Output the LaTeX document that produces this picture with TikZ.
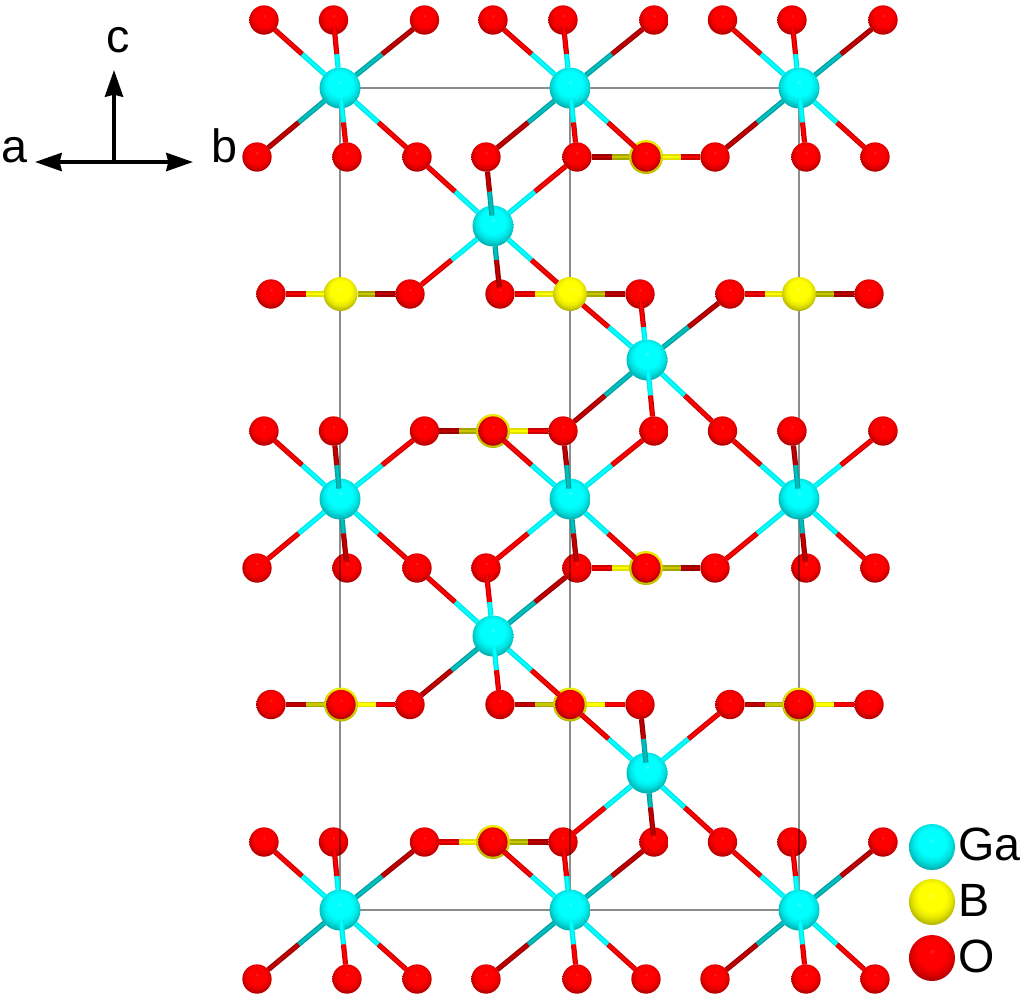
\documentclass[tikz,border=0pt]{standalone}
\usepackage{fontspec}
\setmainfont{Liberation Sans}
\usetikzlibrary{calc,arrows.meta}
\definecolor{cyA}{RGB}{60,255,255}
\definecolor{cyB}{RGB}{0,255,255}
\definecolor{cyC}{RGB}{0,228,228}
\definecolor{cyD}{RGB}{0,180,180}
\definecolor{cyE}{RGB}{0,125,125}
\definecolor{rdA}{RGB}{255,40,40}
\definecolor{rdB}{RGB}{255,0,0}
\definecolor{rdC}{RGB}{230,0,0}
\definecolor{rdD}{RGB}{180,0,0}
\definecolor{rdE}{RGB}{120,0,0}
\definecolor{ylA}{RGB}{255,255,70}
\definecolor{ylB}{RGB}{255,255,0}
\definecolor{ylC}{RGB}{232,232,0}
\definecolor{ylD}{RGB}{185,185,0}
\definecolor{ylE}{RGB}{130,130,0}
\definecolor{cyTubeA}{RGB}{0,230,230}
\definecolor{cyTubeB}{RGB}{0,255,255}
\definecolor{cyTubeC}{RGB}{0,160,160}
\definecolor{cyTubeD}{RGB}{0,190,190}
\definecolor{rdTubeA}{RGB}{205,0,0}
\definecolor{rdTubeB}{RGB}{255,0,0}
\definecolor{rdTubeC}{RGB}{155,0,0}
\definecolor{rdTubeD}{RGB}{192,0,0}
\definecolor{ylTubeA}{RGB}{225,225,0}
\definecolor{ylTubeB}{RGB}{255,255,0}
\definecolor{ylTubeC}{RGB}{165,165,0}
\definecolor{ylTubeD}{RGB}{200,200,0}
\pgfdeclareradialshading{oball}{\pgfpoint{0bp}{7.5bp}}{%
  color(0bp)=(rdA); color(3bp)=(rdB); color(15bp)=(rdB); color(21bp)=(rdC); color(27bp)=(rdD); color(32.5bp)=(rdE); color(50bp)=(rdE)}
\pgfdeclareradialshading{gball}{\pgfpoint{0bp}{7.5bp}}{%
  color(0bp)=(cyA); color(3bp)=(cyB); color(15bp)=(cyB); color(21bp)=(cyC); color(27bp)=(cyD); color(32.5bp)=(cyE); color(50bp)=(cyE)}
\pgfdeclareradialshading{bball}{\pgfpoint{0bp}{7.5bp}}{%
  color(0bp)=(ylA); color(3bp)=(ylB); color(15bp)=(ylB); color(21bp)=(ylC); color(27bp)=(ylD); color(32.5bp)=(ylE); color(50bp)=(ylE)}
\tikzset{
  atom/.style={circle,inner sep=0pt,outer sep=0pt,draw=none},
  oatom/.style={atom,shading=oball,minimum size=22pt},
  gatom/.style={atom,shading=gball,minimum size=30.75pt},
  batom/.style={atom,shading=bball,minimum size=25.5pt},
  tube/.style 2 args={draw=#1,double=#2,double distance=2pt,line width=0.95pt},
  cyb/.style={tube={cyTubeA}{cyTubeB}},
  cyd/.style={tube={cyTubeC}{cyTubeD}},
  rdb/.style={tube={rdTubeA}{rdTubeB}},
  rdd/.style={tube={rdTubeC}{rdTubeD}},
  ylb/.style={tube={ylTubeA}{ylTubeB}},
  yld/.style={tube={ylTubeC}{ylTubeD}},
  cellline/.style={draw=black!45,line width=1pt},
  cellover/.style={draw=black,opacity=.4,line width=1pt},
  axisline/.style={draw=black,line width=3pt,-{Stealth[length=20pt,width=13.5pt,inset=1.5pt]}},
  label/.style={inner sep=0pt,outer sep=0pt,anchor=base west,font=\fontsize{35}{36}\selectfont}
}
% plain half bonds between two atoms
\newcommand\gaoplain[3]{%
  \coordinate (m) at ($(#1.center)!.5!(#2.center)$);
  \draw[cy#3] (#1) -- (m);
  \draw[rd#3] (#2) -- (m);}
% the gallium sphere lies behind the bond
\newcommand\gaoverga[3]{%
  \coordinate (m) at ($(#1.center)!.5!(#2.center)$);
  \draw[cy#3,shorten <=7.9pt] (#1.center) -- (m);
  \draw[rd#3] (#2) -- (m);}
% the oxygen sphere lies behind the bond
\newcommand\gaovero[3]{%
  \coordinate (m) at ($(#1.center)!.5!(#2.center)$);
  \draw[cy#3] (#1) -- (m);
  \draw[rd#3,shorten <=5pt] (#2.center) -- (m);}
\newcommand\boxbond[3]{%
  \coordinate (m) at ($(#1.center)!.5!(#2.center)$);
  \draw[yl#3] (#1) -- (m);
  \draw[rd#3] (#2) -- (m);}
% #1 Ga name, #2 upper row, #3 first column, #4 group
\newcommand\octa[4]{%
  \edef\ra{\number\numexpr#2+1\relax}%
  \edef\cb{\number\numexpr#3+1\relax}%
  \edef\cc{\number\numexpr#3+2\relax}%
  \edef\sa{S#2-#3}\edef\sb{S#2-\cb}\edef\sc{S#2-\cc}%
  \edef\sd{S\ra-#3}\edef\se{S\ra-\cb}\edef\sf{S\ra-\cc}%
  \ifnum#4=1
    \gaoplain{#1}{\sa}{b}\gaovero{#1}{\sb}{b}\gaoplain{#1}{\sc}{d}%
    \gaoplain{#1}{\sd}{d}\gaoverga{#1}{\se}{b}\gaoplain{#1}{\sf}{b}%
  \else
    \gaoplain{#1}{\sa}{b}\gaoverga{#1}{\sb}{d}\gaoplain{#1}{\sc}{b}%
    \gaoplain{#1}{\sd}{b}\gaovero{#1}{\se}{d}\gaoplain{#1}{\sf}{b}%
  \fi}
% #1 row, #2 column, #3 left mode, #4 right mode
\newcommand\bsite[4]{%
  \edef\cl{\number\numexpr#2-1\relax}\edef\cr{\number\numexpr#2+1\relax}%
  \edef\sl{S#1-\cl}\edef\sr{S#1-\cr}%
  \boxbond{B#1-#2}{\sl}{#3}\boxbond{B#1-#2}{\sr}{#4}}
\begin{document}
\begin{tikzpicture}[x=0.75pt,y=-0.75pt]
\useasboundingbox (0,0) rectangle (1024,1001);
% Ga atoms
\foreach \n/\x/\y in {A1/340/88,A2/570/88,A3/799/88,C/493/226,D/647/360,E1/340/499,E2/570/499,E3/799/499,F/493/636,G/647/773,H1/340/910,H2/570/910,H3/799/910}
  \coordinate (P\n) at (\x,\y);
% unit cell
\draw[cellline] (PA1) -- (PA3);
\draw[cellline] (PH1) -- (PH3);
\draw[cellline] (PA1) -- (PH1);
\draw[cellline] (PA2) -- (PH2);
\draw[cellline] (PA3) -- (PH3);
% atoms
\foreach \n in {A1,A2,A3,C,D,E1,E2,E3,F,G,H1,H2,H3}
  \node[gatom] (\n) at (P\n) {};
\foreach \r/\c/\x/\y in {2/6/646/157,4/4/493/431,5/6/646/568,6/2/341/704.5,6/5/570/704.5,6/8/799/704.5,7/4/493/842}
  \node[batom] (B\r-\c) at (\x,\y) {};
\foreach \r/\y in {1/20,4/431,7/842}
  \foreach \c/\x in {1/264,2/333.5,3/424.5,4/493,5/563,6/654,7/722.5,8/792,9/883}
    \node[oatom] (S\r-\c) at (\x,\y) {};
\foreach \r/\y in {2/157,5/568,8/979}
  \foreach \c/\x in {1/257,2/347,3/417,4/486,5/577,6/646,7/715,8/806,9/875}
    \node[oatom] (S\r-\c) at (\x,\y) {};
\foreach \c/\x in {1/271,2/341,3/410,4/500,5/570,6/640,7/730,8/799,9/869}
  \node[oatom] (S6-\c) at (\x,704.5) {};
\foreach \c/\x in {1/271,3/410,4/500,6/640,7/730,9/869}
  \node[oatom] (S3-\c) at (\x,294) {};
\foreach \c/\x in {2/340.5,5/570,8/799}
  \node[batom,alias=S3-\c] (B3-\c) at (\x,294) {};
% bonds around Ga
\octa{A1}{1}{1}{1}\octa{A2}{1}{4}{1}\octa{A3}{1}{7}{1}
\octa{C}{2}{3}{2}
\octa{D}{3}{5}{1}
\octa{E1}{4}{1}{2}\octa{E2}{4}{4}{2}\octa{E3}{4}{7}{2}
\octa{F}{5}{3}{1}
\octa{G}{6}{5}{2}
\octa{H1}{7}{1}{1}\octa{H2}{7}{4}{1}\octa{H3}{7}{7}{1}
% bonds around B
\bsite{2}{6}{d}{b}
\bsite{3}{2}{b}{d}\bsite{3}{5}{b}{d}\bsite{3}{8}{b}{d}
\bsite{4}{4}{d}{b}
\bsite{5}{6}{b}{d}
\bsite{6}{2}{d}{b}\bsite{6}{5}{d}{b}\bsite{6}{8}{d}{b}
\bsite{7}{4}{b}{d}
% cell edges in front of some O atoms
\foreach \s/\p/\h in {S5-2/E1/13,S5-5/E2/13,S5-8/E3/13,S7-2/H1/13,S7-5/H2/13,S7-8/H3/13}
  \draw[cellover] (\s.center -| \p.center) ++(0,-\h) -- ++(0,2*\h);
% axes
\coordinate (org) at (114,162);
\coordinate (tipa) at (35,162);
\coordinate (tipb) at (193,162);
\coordinate (tipc) at (114,70);
\draw[axisline] (org) -- (tipa);
\draw[axisline] (org) -- (tipb);
\draw[axisline] (org) ++(0,1.9) -- (tipc);
\node[label] (la) at (2,162) {a};
\node[label] (lb) at (211,162) {b};
\node[label] (lc) at (106,52) {c};
% legend
\node[atom,shading=gball,minimum size=34.5pt] (kg) at (932,847) {};
\node[atom,shading=bball,minimum size=34.5pt] (kb) at (932,902) {};
\node[atom,shading=oball,minimum size=34.5pt] (ko) at (932,958) {};
\node[label] (tg) at (958,860) {Ga};
\node[label] (tb) at (958,916) {B};
\node[label] (to) at (958,972) {O};
\end{tikzpicture}
\end{document}
